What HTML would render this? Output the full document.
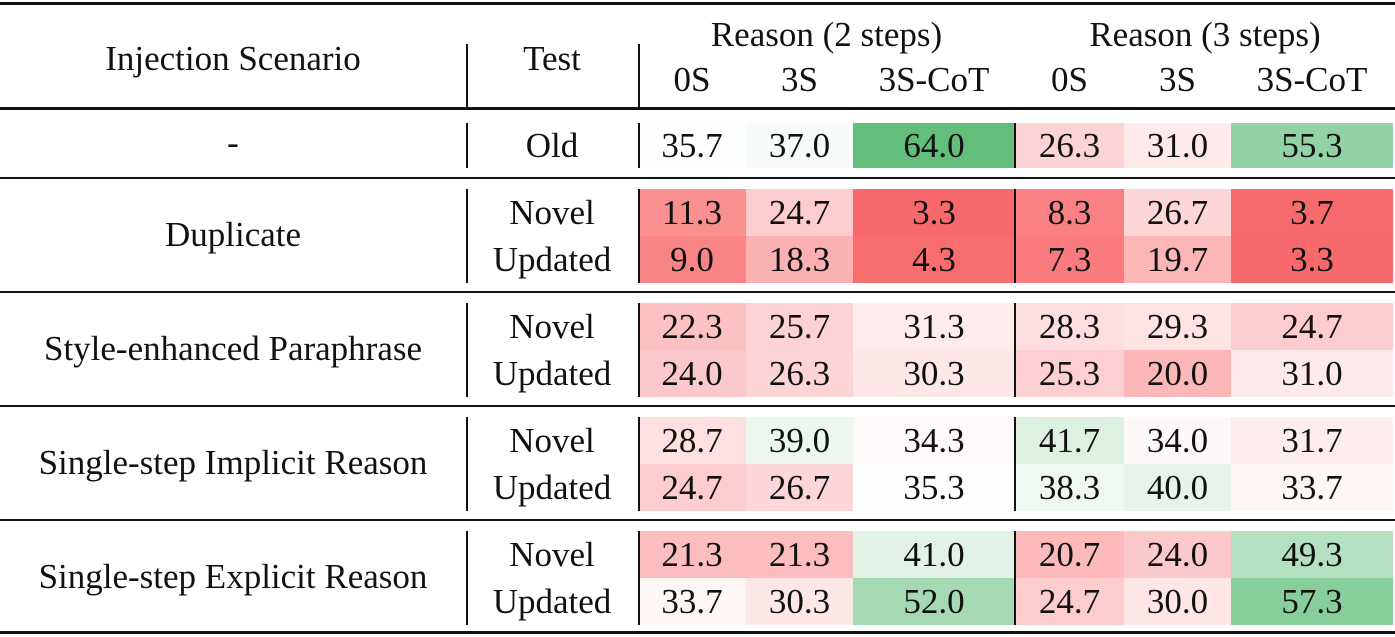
<!DOCTYPE html>
<html><head><meta charset="utf-8"><style>
body{margin:0;width:1395px;height:637px;background:#fff;position:relative;overflow:hidden;font-family:"Liberation Serif","DejaVu Serif",serif;font-size:35px;line-height:40px;color:#111}
.a{position:absolute;text-align:center;white-space:nowrap}
.h{position:absolute;left:0;width:1395px;background:#111}
.v{position:absolute;width:1.5px;background:#111}
.c{position:absolute;display:flex;align-items:center;justify-content:center}
</style></head><body>
<div class="h" style="top:2px;height:3px"></div>
<div class="h" style="top:107px;height:2.5px"></div>
<div class="h" style="top:177px;height:2px"></div>
<div class="h" style="top:291px;height:2px"></div>
<div class="h" style="top:405px;height:2px"></div>
<div class="h" style="top:519px;height:2px"></div>
<div class="h" style="top:631px;height:3px"></div>

<div class="a" style="left:0;width:466px;top:39px">Injection Scenario</div>
<div class="a" style="left:466px;width:172px;top:39px">Test</div>
<div class="a" style="left:638px;width:377px;top:15px">Reason (2 steps)</div>
<div class="a" style="left:1015px;width:380px;top:15px">Reason (3 steps)</div>
<div class="a" style="left:638px;width:108px;top:60px">0S</div>
<div class="a" style="left:746px;width:107px;top:60px">3S</div>
<div class="a" style="left:853px;width:162px;top:60px">3S-CoT</div>
<div class="a" style="left:1015px;width:109px;top:60px">0S</div>
<div class="a" style="left:1124px;width:107px;top:60px">3S</div>
<div class="a" style="left:1231px;width:162px;top:60px">3S-CoT</div>

<div class="a" style="left:0;width:466px;top:123px">-</div>
<div class="a" style="left:0;width:466px;top:215px">Duplicate</div>
<div class="a" style="left:0;width:466px;top:329px">Style-enhanced Paraphrase</div>
<div class="a" style="left:0;width:466px;top:443px">Single-step Implicit Reason</div>
<div class="a" style="left:0;width:466px;top:557px">Single-step Explicit Reason</div>

<div class="v" style="left:466px;top:44px;height:64px"></div>
<div class="v" style="left:638px;top:44px;height:64px"></div>

<div class="v" style="left:466px;top:123px;height:45px"></div>
<div class="c" style="left:466px;width:172px;top:123px;height:45px">Old</div>
<div class="c" style="left:638px;width:108px;top:123px;height:45px;background:color-mix(in srgb,#63be7b 1%,#fff)">35.7</div>
<div class="c" style="left:746px;width:107px;top:123px;height:45px;background:color-mix(in srgb,#63be7b 5%,#fff)">37.0</div>
<div class="c" style="left:853px;width:162px;top:123px;height:45px;background:#63be7b">64.0</div>
<div class="c" style="left:1015px;width:109px;top:123px;height:45px;background:color-mix(in srgb,#f8696b 29%,#fff)">26.3</div>
<div class="c" style="left:1124px;width:107px;top:123px;height:45px;background:color-mix(in srgb,#f8696b 14%,#fff)">31.0</div>
<div class="c" style="left:1231px;width:162px;top:123px;height:45px;background:color-mix(in srgb,#63be7b 69%,#fff)">55.3</div>
<div class="v" style="left:638px;top:123px;height:45px"></div>
<div class="v" style="left:1014px;top:123px;height:45px"></div>

<div class="v" style="left:466px;top:189px;height:94px"></div>
<div class="c" style="left:466px;width:172px;top:189px;height:47px">Novel</div>
<div class="c" style="left:466px;width:172px;top:236px;height:47px">Updated</div>
<div class="c" style="left:638px;width:108px;top:189px;height:47px;background:color-mix(in srgb,#f8696b 75%,#fff)">11.3</div>
<div class="c" style="left:746px;width:107px;top:189px;height:47px;background:color-mix(in srgb,#f8696b 34%,#fff)">24.7</div>
<div class="c" style="left:853px;width:162px;top:189px;height:47px;background:#f8696b">3.3</div>
<div class="c" style="left:1015px;width:109px;top:189px;height:47px;background:color-mix(in srgb,#f8696b 84%,#fff)">8.3</div>
<div class="c" style="left:1124px;width:107px;top:189px;height:47px;background:color-mix(in srgb,#f8696b 27%,#fff)">26.7</div>
<div class="c" style="left:1231px;width:162px;top:189px;height:47px;background:color-mix(in srgb,#f8696b 99%,#fff)">3.7</div>
<div class="c" style="left:638px;width:108px;top:236px;height:47px;background:color-mix(in srgb,#f8696b 82%,#fff)">9.0</div>
<div class="c" style="left:746px;width:107px;top:236px;height:47px;background:color-mix(in srgb,#f8696b 53%,#fff)">18.3</div>
<div class="c" style="left:853px;width:162px;top:236px;height:47px;background:color-mix(in srgb,#f8696b 97%,#fff)">4.3</div>
<div class="c" style="left:1015px;width:109px;top:236px;height:47px;background:color-mix(in srgb,#f8696b 88%,#fff)">7.3</div>
<div class="c" style="left:1124px;width:107px;top:236px;height:47px;background:color-mix(in srgb,#f8696b 49%,#fff)">19.7</div>
<div class="c" style="left:1231px;width:162px;top:236px;height:47px;background:#f8696b">3.3</div>
<div class="v" style="left:638px;top:189px;height:94px"></div>
<div class="v" style="left:1014px;top:189px;height:94px"></div>

<div class="v" style="left:466px;top:303px;height:94px"></div>
<div class="c" style="left:466px;width:172px;top:303px;height:47px">Novel</div>
<div class="c" style="left:466px;width:172px;top:350px;height:47px">Updated</div>
<div class="c" style="left:638px;width:108px;top:303px;height:47px;background:color-mix(in srgb,#f8696b 41%,#fff)">22.3</div>
<div class="c" style="left:746px;width:107px;top:303px;height:47px;background:color-mix(in srgb,#f8696b 30%,#fff)">25.7</div>
<div class="c" style="left:853px;width:162px;top:303px;height:47px;background:color-mix(in srgb,#f8696b 13%,#fff)">31.3</div>
<div class="c" style="left:1015px;width:109px;top:303px;height:47px;background:color-mix(in srgb,#f8696b 22%,#fff)">28.3</div>
<div class="c" style="left:1124px;width:107px;top:303px;height:47px;background:color-mix(in srgb,#f8696b 19%,#fff)">29.3</div>
<div class="c" style="left:1231px;width:162px;top:303px;height:47px;background:color-mix(in srgb,#f8696b 34%,#fff)">24.7</div>
<div class="c" style="left:638px;width:108px;top:350px;height:47px;background:color-mix(in srgb,#f8696b 36%,#fff)">24.0</div>
<div class="c" style="left:746px;width:107px;top:350px;height:47px;background:color-mix(in srgb,#f8696b 29%,#fff)">26.3</div>
<div class="c" style="left:853px;width:162px;top:350px;height:47px;background:color-mix(in srgb,#f8696b 16%,#fff)">30.3</div>
<div class="c" style="left:1015px;width:109px;top:350px;height:47px;background:color-mix(in srgb,#f8696b 32%,#fff)">25.3</div>
<div class="c" style="left:1124px;width:107px;top:350px;height:47px;background:color-mix(in srgb,#f8696b 48%,#fff)">20.0</div>
<div class="c" style="left:1231px;width:162px;top:350px;height:47px;background:color-mix(in srgb,#f8696b 14%,#fff)">31.0</div>
<div class="v" style="left:638px;top:303px;height:94px"></div>
<div class="v" style="left:1014px;top:303px;height:94px"></div>

<div class="v" style="left:466px;top:417px;height:94px"></div>
<div class="c" style="left:466px;width:172px;top:417px;height:47px">Novel</div>
<div class="c" style="left:466px;width:172px;top:464px;height:47px">Updated</div>
<div class="c" style="left:638px;width:108px;top:417px;height:47px;background:color-mix(in srgb,#f8696b 21%,#fff)">28.7</div>
<div class="c" style="left:746px;width:107px;top:417px;height:47px;background:color-mix(in srgb,#63be7b 12%,#fff)">39.0</div>
<div class="c" style="left:853px;width:162px;top:417px;height:47px;background:color-mix(in srgb,#f8696b 4%,#fff)">34.3</div>
<div class="c" style="left:1015px;width:109px;top:417px;height:47px;background:color-mix(in srgb,#63be7b 22%,#fff)">41.7</div>
<div class="c" style="left:1124px;width:107px;top:417px;height:47px;background:color-mix(in srgb,#f8696b 5%,#fff)">34.0</div>
<div class="c" style="left:1231px;width:162px;top:417px;height:47px;background:color-mix(in srgb,#f8696b 12%,#fff)">31.7</div>
<div class="c" style="left:638px;width:108px;top:464px;height:47px;background:color-mix(in srgb,#f8696b 34%,#fff)">24.7</div>
<div class="c" style="left:746px;width:107px;top:464px;height:47px;background:color-mix(in srgb,#f8696b 27%,#fff)">26.7</div>
<div class="c" style="left:853px;width:162px;top:464px;height:47px;background:color-mix(in srgb,#f8696b 1%,#fff)">35.3</div>
<div class="c" style="left:1015px;width:109px;top:464px;height:47px;background:color-mix(in srgb,#63be7b 10%,#fff)">38.3</div>
<div class="c" style="left:1124px;width:107px;top:464px;height:47px;background:color-mix(in srgb,#63be7b 16%,#fff)">40.0</div>
<div class="c" style="left:1231px;width:162px;top:464px;height:47px;background:color-mix(in srgb,#f8696b 6%,#fff)">33.7</div>
<div class="v" style="left:638px;top:417px;height:94px"></div>
<div class="v" style="left:1014px;top:417px;height:94px"></div>

<div class="v" style="left:466px;top:531px;height:94px"></div>
<div class="c" style="left:466px;width:172px;top:531px;height:47px">Novel</div>
<div class="c" style="left:466px;width:172px;top:578px;height:47px">Updated</div>
<div class="c" style="left:638px;width:108px;top:531px;height:47px;background:color-mix(in srgb,#f8696b 44%,#fff)">21.3</div>
<div class="c" style="left:746px;width:107px;top:531px;height:47px;background:color-mix(in srgb,#f8696b 44%,#fff)">21.3</div>
<div class="c" style="left:853px;width:162px;top:531px;height:47px;background:color-mix(in srgb,#63be7b 19%,#fff)">41.0</div>
<div class="c" style="left:1015px;width:109px;top:531px;height:47px;background:color-mix(in srgb,#f8696b 46%,#fff)">20.7</div>
<div class="c" style="left:1124px;width:107px;top:531px;height:47px;background:color-mix(in srgb,#f8696b 36%,#fff)">24.0</div>
<div class="c" style="left:1231px;width:162px;top:531px;height:47px;background:color-mix(in srgb,#63be7b 48%,#fff)">49.3</div>
<div class="c" style="left:638px;width:108px;top:578px;height:47px;background:color-mix(in srgb,#f8696b 6%,#fff)">33.7</div>
<div class="c" style="left:746px;width:107px;top:578px;height:47px;background:color-mix(in srgb,#f8696b 16%,#fff)">30.3</div>
<div class="c" style="left:853px;width:162px;top:578px;height:47px;background:color-mix(in srgb,#63be7b 58%,#fff)">52.0</div>
<div class="c" style="left:1015px;width:109px;top:578px;height:47px;background:color-mix(in srgb,#f8696b 34%,#fff)">24.7</div>
<div class="c" style="left:1124px;width:107px;top:578px;height:47px;background:color-mix(in srgb,#f8696b 17%,#fff)">30.0</div>
<div class="c" style="left:1231px;width:162px;top:578px;height:47px;background:color-mix(in srgb,#63be7b 76%,#fff)">57.3</div>
<div class="v" style="left:638px;top:531px;height:94px"></div>
<div class="v" style="left:1014px;top:531px;height:94px"></div>
</body></html>
